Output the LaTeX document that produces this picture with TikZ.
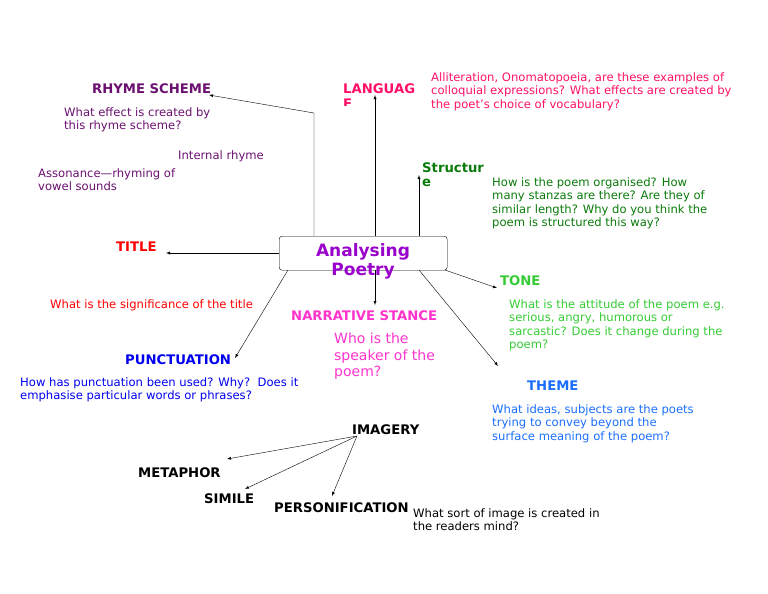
\documentclass[tikz,border=0pt]{standalone}
\usepackage{fontspec}
\setmainfont{DejaVu Sans}
\begin{document}
\begin{tikzpicture}[x=1pt,y=-1pt,
  lbl/.style={anchor=west,font=\fontsize{13.2}{14}\selectfont\bfseries,inner sep=0},
  txt/.style={anchor=north west,align=left,font=\fontsize{11.6}{13.6}\selectfont,inner sep=0},
  arr/.style={-latex,thin}]
\useasboundingbox (0,0) rectangle (768,594);
\definecolor{rhyme}{HTML}{6B1070}
\definecolor{lang}{HTML}{FF1066}
\definecolor{struc}{HTML}{0A7A0A}
\definecolor{tone}{HTML}{33CC33}
\definecolor{narr}{HTML}{FF33CC}
\definecolor{theme}{HTML}{1A6EFF}
\definecolor{punc}{HTML}{0000EE}
\definecolor{ttl}{HTML}{FF0000}
\definecolor{cent}{HTML}{9900CC}
\node[draw,rounded corners=3pt,minimum width=168,minimum height=34,anchor=north west,inner sep=0] (c) at (279,236) {};
\node[align=center,font=\fontsize{17}{19}\selectfont\bfseries,text=cent] (ct) at (363,261) {Analysing\\Poetry};

\node[lbl,text=rhyme] (rs) at (92,89) {RHYME SCHEME};
\node[txt,text=rhyme] (rst) at (64,107) {What effect is created by\\this rhyme scheme?};
\node[txt,text=rhyme] (ir) at (178,150) {Internal rhyme};
\node[txt,text=rhyme] (as) at (38,168) {Assonance—rhyming of\\vowel sounds};

\node[lbl,text=lang] (lg) at (343,89) {LANGUAG};
\begin{scope}
\clip (330,96) rectangle (360,105);
\node[lbl,text=lang] (lge) at (343,104) {E};
\end{scope}
\node[txt,text=lang] (lgt) at (431,72) {Alliteration, Onomatopoeia, are these examples of\\colloquial expressions? What effects are created by\\the poet’s choice of vocabulary?};

\node[lbl,text=struc] (st) at (422,168) {Structur};
\node[lbl,text=struc] (ste) at (422,183) {e};
\node[txt,text=struc] (stt) at (492,177) {How is the poem organised? How\\many stanzas are there? Are they of\\similar length? Why do you think the\\poem is structured this way?};

\node[lbl,text=ttl] (ti) at (116,247) {TITLE};
\node[txt,text=ttl] (tit) at (50,299) {What is the significance of the title};

\node[lbl,text=narr] (ns) at (291,316) {NARRATIVE STANCE};
\node[txt,text=narr,font=\fontsize{14}{16.3}\selectfont] (nst) at (334,333) {Who is the\\speaker of the\\poem?};

\node[lbl,text=tone] (to) at (500,281) {TONE};
\node[txt,text=tone] (tot) at (509,299) {What is the attitude of the poem e.g.\\serious, angry, humorous or\\sarcastic? Does it change during the\\poem?};

\node[lbl,text=punc] (pu) at (125,360) {PUNCTUATION};
\node[txt,text=punc] (put) at (20,377) {How has punctuation been used? Why?\ \ Does it\\emphasise particular words or phrases?};

\node[lbl,text=theme] (th) at (527,386) {THEME};
\node[txt,text=theme] (tht) at (492,404) {What ideas, subjects are the poets\\trying to convey beyond the\\surface meaning of the poem?};

\node[lbl] (im) at (352,430) {IMAGERY};
\node[lbl] (me) at (138,473) {METAPHOR};
\node[lbl] (si) at (204,499) {SIMILE};
\node[lbl] (pe) at (274,508) {PERSONIFICATION};
\node[txt] (imt) at (413,508) {What sort of image is created in\\the readers mind?};

\coordinate (r1) at (314,236);
\coordinate (r2) at (314,113);
\coordinate (r3) at (209,95);
\draw[arr] (r1) -- (r2) -- (r3);
\draw[arr] (375,236) -- (375,95);
\draw[arr] (419,236) -- (419,175);
\draw[arr] (279,253) -- (166,253);
\draw[arr] (375,270) -- (375,305);
\draw[arr] (445,270) -- (497,288);
\draw[arr] (419,270) -- (498,366);
\draw[arr] (288,270) -- (235,358);
\coordinate (ih) at (357,436);
\draw[arr] (ih) -- (227,459);
\draw[arr] (ih) -- (245,489);
\draw[arr] (ih) -- (332,496);
\end{tikzpicture}
\end{document}
